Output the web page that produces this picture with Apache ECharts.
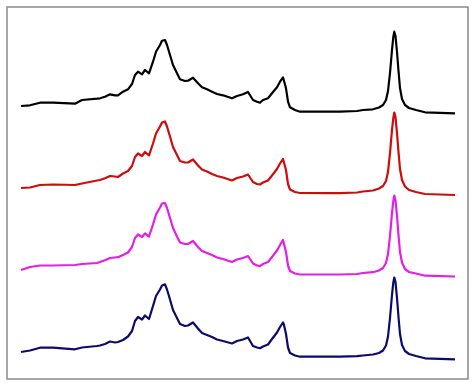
<!DOCTYPE html>
<html>
<head>
<meta charset="utf-8">
<script src="https://cdn.jsdelivr.net/npm/echarts@6/dist/echarts.min.js"></script>
<style>
html,body{margin:0;padding:0;background:#fff;}
#chart{width:474px;height:386px;}
</style>
</head>
<body>
<div id="chart"></div>
<script>
// shared spectral channel positions
const channels = [0,9,19,32,34,54,61,76,79,84,89,94,97,102,107,111,114,117,121,124,126,128,130,132,135,139,141,144,146,149,152,156,159,164,167,172,174,177,181,186,191,196,202,211,216,222,227,229,232,236,239,242,244,247,251,256,259,262,263,265,267,269,274,279,312,319,336,342,352,358,362,365,367,369,371,372.3,373.3,374.5,376,377.5,379,381,384,388,395,404,434];

const spectrumBlack = [9,9.7,12.3,12.3,11.3,11.3,15,16.3,16.7,18.3,20.7,19.7,19.7,23.3,25.7,31,40,43.3,40.7,45,45.7,41.7,43.3,53.3,63.3,70,74.3,75,70,60,50,41.7,35.7,34,34.3,37.3,36.7,31.7,27.7,25.7,23.3,21,19.7,16.7,19,20.7,23,21.7,15,13.3,12.3,15,16.7,16.7,21.7,27.7,33.3,37.7,35.7,26.7,13.3,7.7,5,3.3,3.3,3.3,4,5,5.7,7.5,10,15,24,42,65,78,83.3,79,63,44,27,16,10,7,5,2.7,1.7];

const spectrumRed = [9,9.5,12,12.5,12.3,12,13.5,16.5,17,18.8,21,20.5,20,23.5,26,31,40,43.5,41,45,45.5,41.5,43.5,53.5,63.5,70.5,74.5,75.5,70.5,60.5,50,42,36,34.5,34.5,37.5,36.5,31.5,27.5,25.5,23,21,19.5,16.5,19,20.5,22.5,21.5,15,13,12.5,14.5,16,16.5,21.5,28,33.5,38,36,27,13,7.5,5,4,3.8,3.9,4.5,5.5,6.5,8.5,11,16,25,44,67,79,84.5,80,64,45,28,17,10.5,7,5,3,2];

const spectrumMagenta = [9,12,13.5,13.5,13.8,14,15,16,17,18.8,21,21.5,21.8,24,26.5,32,41,44.5,42,45.5,46,42.5,44,54.5,64.5,71.5,75.5,76,71,61,51,42.5,36.5,35,35,38,37,32,28,26,24,21.5,20,17,19.5,21,23,22,15.5,13.5,12.8,15,16.5,17,22,28.5,34,39,37,27,13.5,8,5.5,4.5,4.5,4.5,5,6,6.8,8.5,11,16,25,43,66,78,83.5,79,63,44,27,16.5,10,7,5.5,3.3,2.5];

const spectrumNavy = [9,10.5,13.3,13.3,12.5,11.7,13.5,15,15.5,17,19.5,18.5,19,21,24.5,30,40,44,41.5,45.5,46,42,44,55,65,71.5,75.5,76.6,71.5,61.5,51,43,37,35,35.5,38.5,37.5,32.5,28,26,24,21.5,20,17.5,20,21.5,23.5,22,15,13.5,12.8,14.5,13.5,16.5,22,28.5,34,38.5,36,27,13.5,8,5.5,4.3,4.3,4.3,4.8,5.5,6.5,8,10.5,15.5,24.5,43,66,78.5,83.5,79,63,44,27,16,10,7,5,2.7,1.7];

const seriesNames = ['A','B','C','D'];
const seriesColors = ['#000000','#d10a0a','#e51ee5','#0b0b6b'];
const seriesOffsets = [264,182,100,18];
const spectra = [spectrumBlack, spectrumRed, spectrumMagenta, spectrumNavy];

const chart = echarts.init(document.getElementById('chart'), null, {renderer:'canvas'});
chart.setOption({
  animation:false,
  backgroundColor:'#ffffff',
  grid:{left:7,right:6,top:7,bottom:7,show:true,borderColor:'#8a8a8a',borderWidth:1.5,backgroundColor:'#ffffff'},
  xAxis:{type:'value',min:-14,max:447,axisLine:{show:false},axisTick:{show:false},axisLabel:{show:false},splitLine:{show:false}},
  yAxis:{type:'value',min:0,max:372,axisLine:{show:false},axisTick:{show:false},axisLabel:{show:false},splitLine:{show:false}},
  series: spectra.map((vals,k)=>({
    name:seriesNames[k],
    type:'line',
    showSymbol:false,
    symbol:'none',
    smooth:false,
    lineStyle:{color:seriesColors[k],width:2.2,join:'round'},
    data: channels.map((x,i)=>[x, vals[i] + seriesOffsets[k]])
  }))
});
</script>
</body>
</html>
